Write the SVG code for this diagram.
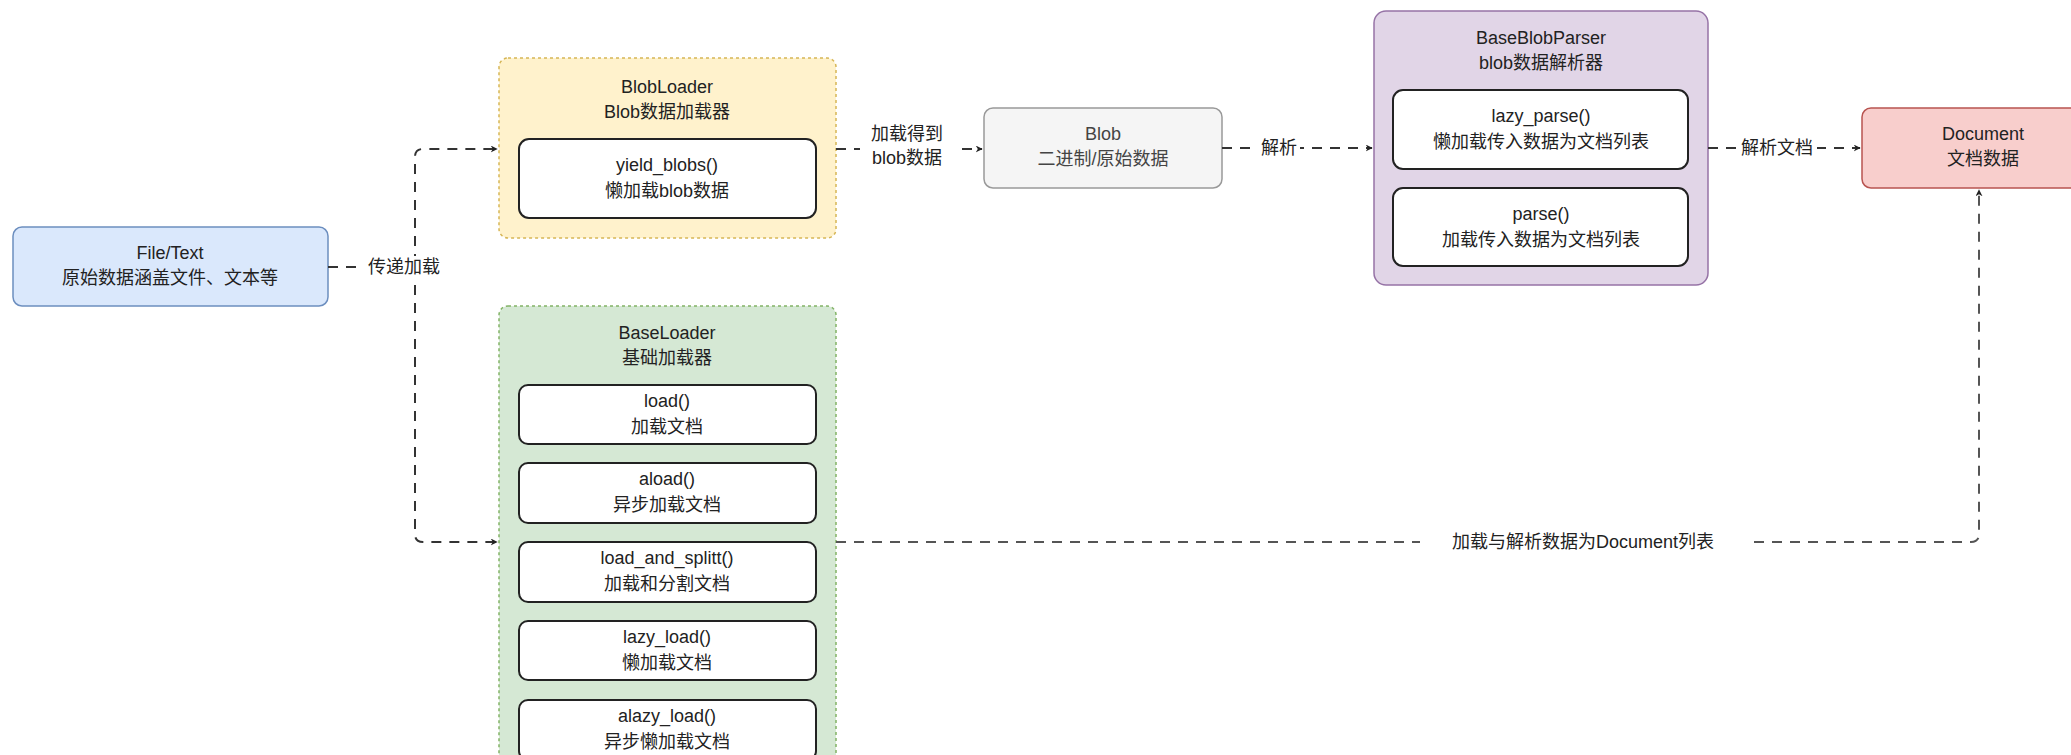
<svg xmlns="http://www.w3.org/2000/svg" width="2071" height="755" viewBox="0 0 2071 755">
<defs>
<marker id="ah" viewBox="0 0 10 10" refX="9" refY="5" markerWidth="7" markerHeight="7" orient="auto" markerUnits="userSpaceOnUse"><path d="M0,0 L10,5 L0,10 L3,5 Z" fill="#222"/></marker>
<style>
text{font-family:"Liberation Sans","Noto Sans CJK SC",sans-serif;font-size:18px;fill:#222;text-anchor:middle}
.in{fill:#fff;stroke:#222;stroke-width:2}
.c{fill:none;stroke:#333;stroke-width:2;stroke-dasharray:10 8}
.lb{fill:#fff}
</style>
</defs>
<rect width="2071" height="755" fill="#fff"/>
<g id="filetext"><rect x="13" y="227" width="315" height="79" rx="9" fill="#dae8fc" stroke="#6c8ebf" stroke-width="1.5"/><text x="170" y="259">File/Text</text><text x="170" y="284">原始数据涵盖文件、文本等</text></g>
<g id="blobloader"><rect x="499" y="58" width="337" height="180" rx="9" fill="#fff2cc" stroke="#d6b656" stroke-width="1.5" stroke-dasharray="3 3"/><text x="667" y="93">BlobLoader</text><text x="667" y="118">Blob数据加载器</text>
<rect class="in" x="519" y="139" width="297" height="79" rx="10"/><text x="667" y="171">yield_blobs()</text><text x="667" y="197">懒加载blob数据</text></g>
<g id="blob"><rect x="984" y="108" width="238" height="80" rx="9" fill="#f5f5f5" stroke="#999" stroke-width="1.5"/><text x="1103" y="140" style="fill:#444">Blob</text><text x="1103" y="165" style="fill:#444">二进制/原始数据</text></g>
<g id="baseblobparser"><rect x="1374" y="11" width="334" height="274" rx="12" fill="#e1d5e7" stroke="#9673a6" stroke-width="1.5"/><text x="1541" y="44">BaseBlobParser</text><text x="1541" y="69">blob数据解析器</text>
<rect class="in" x="1393" y="90" width="295" height="79" rx="10"/><text x="1541" y="122">lazy_parse()</text><text x="1541" y="148">懒加载传入数据为文档列表</text>
<rect class="in" x="1393" y="188" width="295" height="78" rx="10"/><text x="1541" y="220">parse()</text><text x="1541" y="246">加载传入数据为文档列表</text></g>
<g id="document"><rect x="1862" y="108" width="230" height="80" rx="9" fill="#f8cecc" stroke="#b85450" stroke-width="1.5"/><text x="1983" y="140">Document</text><text x="1983" y="165">文档数据</text></g>
<g id="baseloader"><rect x="499" y="306" width="337" height="470" rx="9" fill="#d5e8d4" stroke="#82b366" stroke-width="1.5" stroke-dasharray="3 3"/><text x="667" y="339">BaseLoader</text><text x="667" y="364">基础加载器</text>
<rect class="in" x="519" y="385" width="297" height="59" rx="9"/><text x="667" y="407">load()</text><text x="667" y="433">加载文档</text>
<rect class="in" x="519" y="463" width="297" height="60" rx="9"/><text x="667" y="485">aload()</text><text x="667" y="511">异步加载文档</text>
<rect class="in" x="519" y="542" width="297" height="60" rx="9"/><text x="667" y="564">load_and_splitt()</text><text x="667" y="590">加载和分割文档</text>
<rect class="in" x="519" y="621" width="297" height="59" rx="9"/><text x="667" y="643">lazy_load()</text><text x="667" y="669">懒加载文档</text>
<rect class="in" x="519" y="700" width="297" height="60" rx="9"/><text x="667" y="722">alazy_load()</text><text x="667" y="748">异步懒加载文档</text></g>
<g id="connectors">
<path class="c" d="M328,267 H415 V157 Q415,149 423,149 H497" marker-end="url(#ah)"/>
<path class="c" d="M415,267 V534 Q415,542 423,542 H497" marker-end="url(#ah)"/>
<rect class="lb" x="356" y="256" width="96" height="22"/><text x="404" y="273">传递加载</text>
<path class="c" d="M836,149 H982" marker-end="url(#ah)"/>
<rect class="lb" x="860" y="120" width="94" height="52"/><text x="907" y="140">加载得到</text><text x="907" y="164">blob数据</text>
<path class="c" d="M1222,148 H1372" marker-end="url(#ah)"/>
<rect class="lb" x="1258" y="137" width="42" height="22"/><text x="1279" y="154">解析</text>
<path class="c" d="M1708,148 H1860" marker-end="url(#ah)"/>
<rect class="lb" x="1737" y="137" width="80" height="22"/><text x="1777" y="154">解析文档</text>
<path class="c" d="M836,542 H1971 Q1979,542 1979,534 V190" style="stroke:#555" marker-end="url(#ah)"/>
<rect class="lb" x="1420" y="531" width="326" height="22"/><text x="1583" y="548">加载与解析数据为Document列表</text>
</g>
</svg>
